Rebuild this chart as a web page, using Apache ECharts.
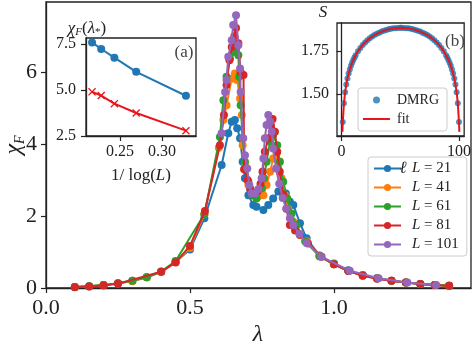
<!DOCTYPE html>
<html><head><meta charset="utf-8">
<script src="https://cdn.jsdelivr.net/npm/echarts@6/dist/echarts.min.js"></script>
<style>html,body{margin:0;padding:0;background:#fff}#c{width:474px;height:343px}</style>
</head><body><div id="c"></div>
<script>
// ---- main panel: chi_F vs lambda ----
const lam21 = [0.1,0.15,0.2,0.25,0.3,0.35,0.4,0.45,0.5,0.55,0.61,0.633,0.645,0.656,0.664,0.674,0.683,0.691,0.703,0.72,0.731,0.755,0.772,0.789,0.807,0.818,0.833,0.847,0.859,0.882,0.905,0.95,1.0,1.05,1.1,1.15,1.2,1.25,1.3,1.35,1.4];
const chi21 = [0.03,0.05,0.08,0.13,0.2,0.3,0.45,0.72,1.07,1.94,3.42,4.3,4.62,4.67,4.44,4.16,3.51,3.05,2.58,2.31,2.26,2.17,2.31,2.49,2.68,2.72,2.63,2.4,2.31,1.8,1.38,0.9,0.68,0.49,0.36,0.27,0.2,0.15,0.11,0.08,0.06];

const lam41 = [0.1,0.15,0.2,0.25,0.3,0.35,0.4,0.45,0.5,0.55,0.6,0.616,0.627,0.645,0.656,0.664,0.674,0.68,0.683,0.691,0.703,0.72,0.737,0.755,0.766,0.778,0.789,0.801,0.812,0.818,0.83,0.841,0.859,0.882,0.905,0.95,1.0,1.05,1.1,1.15,1.2,1.25,1.3,1.35,1.4];
const chi41 = [0.03,0.05,0.08,0.13,0.19,0.3,0.45,0.72,1.12,2.05,3.9,4.67,5.08,5.82,5.96,5.78,5.27,4.81,3.97,3.42,2.86,2.63,2.54,2.58,2.86,3.23,3.6,3.74,3.51,3.05,2.58,2.21,1.84,1.5,1.3,0.88,0.66,0.48,0.35,0.27,0.2,0.15,0.11,0.08,0.06];

const lam61 = [0.1,0.15,0.2,0.25,0.3,0.35,0.4,0.45,0.55,0.604,0.616,0.627,0.639,0.65,0.659,0.668,0.671,0.676,0.683,0.691,0.703,0.717,0.731,0.749,0.757,0.766,0.778,0.789,0.803,0.812,0.824,0.838,0.853,0.87,0.9,0.95,1.0,1.05,1.1,1.15,1.2,1.25,1.3,1.35,1.4];
const chi61 = [0.03,0.05,0.08,0.13,0.2,0.3,0.46,0.75,2.05,4.2,5.22,5.87,6.38,6.56,6.76,6.47,5.87,5.08,4.16,3.51,2.95,2.58,2.49,2.77,3.05,3.51,4.07,4.26,3.97,3.51,2.95,2.49,2.07,1.75,1.3,0.88,0.66,0.48,0.35,0.27,0.2,0.15,0.11,0.08,0.06];

const lam81 = [0.1,0.15,0.2,0.25,0.4,0.45,0.5,0.552,0.604,0.618,0.627,0.637,0.645,0.654,0.66,0.668,0.676,0.686,0.688,0.7,0.71,0.722,0.735,0.745,0.752,0.76,0.772,0.78,0.787,0.795,0.803,0.812,0.824,0.835,0.847,0.865,0.882,0.91,0.957,1.0,1.05,1.1,1.15,1.2,1.25,1.3,1.35,1.4];
const chi81 = [0.02,0.04,0.07,0.12,0.45,0.71,1.17,2.14,3.97,4.81,5.64,6.33,6.7,7.0,7.23,6.8,6.0,5.92,3.3,3.0,2.75,2.62,2.68,2.9,3.23,3.79,4.16,4.53,4.7,4.34,3.79,3.23,2.6,2.2,1.75,1.6,1.47,1.24,0.87,0.66,0.47,0.34,0.26,0.2,0.15,0.11,0.08,0.06];

const lam101 = [0.61,0.622,0.627,0.633,0.645,0.65,0.66,0.668,0.674,0.676,0.685,0.691,0.699,0.706,0.714,0.726,0.738,0.749,0.755,0.76,0.766,0.772,0.778,0.784,0.789,0.799,0.81,0.822,0.835,0.847,0.859,0.88,0.905,0.955,1.055,1.155,1.255,1.355];
const chi101 = [4.3,5.45,5.78,6.43,6.89,7.31,7.58,6.75,6.1,5.45,4.16,3.69,3.32,2.86,2.63,2.63,2.75,3.05,3.6,4.16,4.53,4.81,4.62,4.34,3.88,3.32,2.9,2.5,2.2,1.94,1.75,1.5,1.25,0.87,0.48,0.27,0.15,0.08];

const seriesNames = ['L = 21','L = 41','L = 61','L = 81','L = 101'];
const seriesColors = ['#1f77b4','#ff7f0e','#2ca02c','#d62728','#9467bd'];
const xTicksMain = [0, 0.5, 1.0];
const yTicksMain = [0, 2, 4, 6];

// ---- inset (a): chi_F(lambda_*) vs 1/log(L) ----
const invLogL = [0.2167,0.2276,0.2433,0.2693,0.3285];
const chiPeak1 = [7.59,7.23,6.76,5.99,4.69];
const chiPeak2 = [4.90,4.70,4.26,3.75,2.79];
const xTicksA = [0.25, 0.30];
const yTicksA = [2.5, 5.0, 7.5];

// ---- inset (b): entanglement entropy S vs l ----
const ellX = [1,2,3,4,5,6,7,8,9,10,11,12,14,16,18,20,22,24,26,28,30,32,34,36,38,40,42,44,46,48,50,51,53,55,57,59,61,63,65,67,69,71,73,75,77,79,81,83,85,87,89,90,91,92,93,94,95,96,97,98,99,100];
const sDMRG = [1.337,1.446,1.510,1.555,1.590,1.619,1.643,1.664,1.682,1.698,1.712,1.726,1.749,1.768,1.785,1.800,1.813,1.824,1.834,1.843,1.850,1.857,1.863,1.868,1.873,1.876,1.879,1.882,1.883,1.884,1.885,1.885,1.884,1.883,1.882,1.879,1.876,1.873,1.868,1.863,1.857,1.850,1.843,1.834,1.824,1.813,1.800,1.785,1.768,1.749,1.726,1.712,1.698,1.682,1.664,1.643,1.619,1.590,1.555,1.510,1.446,1.337];
const fitX = [0.7,1,2,3,4,5,6,7,8,9,10,11,12,14,16,18,20,22,24,26,28,30,32,34,36,38,40,42,44,46,48,50,51,53,55,57,59,61,63,65,67,69,71,73,75,77,79,81,83,85,87,89,90,91,92,93,94,95,96,97,98,99,100,100.3];
const fitS = [1.280,1.337,1.446,1.510,1.555,1.590,1.619,1.643,1.664,1.682,1.698,1.712,1.726,1.749,1.768,1.785,1.800,1.813,1.824,1.834,1.843,1.850,1.857,1.863,1.868,1.873,1.876,1.879,1.882,1.883,1.884,1.885,1.885,1.884,1.883,1.882,1.879,1.876,1.873,1.868,1.863,1.857,1.850,1.843,1.834,1.824,1.813,1.800,1.785,1.768,1.749,1.726,1.712,1.698,1.682,1.664,1.643,1.619,1.590,1.555,1.510,1.446,1.337,1.280];
const xTicksB = [0, 100];
const yTicksB = [1.50, 1.75];

const zip = (a, b) => a.map((v, i) => [v, b[i]]);
const SERIF = 'Liberation Serif';
const INK = '#222';
const lamData = [[lam21, chi21],[lam41, chi41],[lam61, chi61],[lam81, chi81],[lam101, chi101]];

function axisBase(fs) {
  return {
    axisLine: {show: true, lineStyle: {color: INK, width: 1.3}},
    axisTick: {show: true, length: 5, lineStyle: {color: INK, width: 1.2}},
    splitLine: {show: false},
    axisLabel: {color: INK, fontFamily: SERIF, fontSize: fs}
  };
}
function mk(base, extra) {
  const o = Object.assign({}, base, extra);
  o.axisLabel = Object.assign({}, base.axisLabel, extra.axisLabel || {});
  o.axisTick = Object.assign({}, base.axisTick, extra.axisTick || {});
  return o;
}

const mainSeries = lamData.map((d, i) => ({
  name: seriesNames[i], type: 'line', xAxisIndex: 0, yAxisIndex: 0,
  data: zip(d[0], d[1]), symbol: 'circle', symbolSize: 8,
  lineStyle: {width: 2, color: seriesColors[i]},
  itemStyle: {color: seriesColors[i]}, z: 2 + i, clip: true
}));

const option = {
  animation: false,
  backgroundColor: '#fff',
  grid: [
    {left: 46, top: 2, width: 425, height: 286, show: true, borderColor: INK, borderWidth: 1.3, backgroundColor: 'transparent'},
    {left: 86, top: 38, width: 110, height: 98, show: true, borderColor: INK, borderWidth: 1.3, backgroundColor: '#fff'},
    {left: 337, top: 23, width: 130, height: 113, show: true, borderColor: INK, borderWidth: 1.3, backgroundColor: '#fff'}
  ],
  xAxis: [
    mk(axisBase(22), {type: 'value', gridIndex: 0, min: 0, max: 1.476,
      axisLabel: {customValues: xTicksMain, formatter: v => v.toFixed(1), margin: 9},
      axisTick: {customValues: xTicksMain}}),
    mk(axisBase(16), {type: 'value', gridIndex: 1, min: 0.2095, max: 0.3405,
      axisLabel: {customValues: xTicksA, formatter: v => v.toFixed(2), margin: 8},
      axisTick: {customValues: xTicksA}}),
    mk(axisBase(16), {type: 'value', gridIndex: 2, min: -3.9, max: 104.4,
      axisLabel: {customValues: xTicksB, formatter: v => String(Math.round(v)), margin: 8},
      axisTick: {customValues: xTicksB}})
  ],
  yAxis: [
    mk(axisBase(22), {type: 'value', gridIndex: 0, min: 0, max: 7.95,
      axisLabel: {customValues: yTicksMain, formatter: v => String(v), margin: 9},
      axisTick: {customValues: yTicksMain}}),
    mk(axisBase(16), {type: 'value', gridIndex: 1, min: 2.5, max: 7.83,
      axisLabel: {customValues: yTicksA, formatter: v => v.toFixed(1), margin: 10},
      axisTick: {customValues: yTicksA}}),
    mk(axisBase(16), {type: 'value', gridIndex: 2, min: 1.256, max: 1.913,
      axisLabel: {customValues: yTicksB, formatter: v => v.toFixed(2), margin: 8},
      axisTick: {customValues: yTicksB}})
  ],
  legend: [
    {data: seriesNames, orient: 'vertical', left: 368, top: 157, itemWidth: 27, itemHeight: 9, itemGap: 4,
      padding: [4, 8, 4, 5], backgroundColor: 'rgba(255,255,255,0.85)', borderColor: '#ccc', borderWidth: 1, borderRadius: 3,
      selectedMode: false,
      formatter: n => '{i|L} = ' + n.split('= ')[1],
      textStyle: {fontFamily: SERIF, fontSize: 15, lineHeight: 14, color: INK, padding: [0, 0, 0, 6],
        rich: {i: {fontFamily: SERIF, fontStyle: 'italic', fontSize: 15, color: INK}}}},
    {data: [{name: 'DMRG', icon: 'circle'}, {name: 'fit', icon: 'path://M0,0H27V2H0Z'}], orient: 'vertical', left: 358, top: 88,
      itemWidth: 27, itemHeight: 7, itemGap: 5, padding: [5, 8, 5, 5], symbolKeepAspect: true,
      backgroundColor: 'rgba(255,255,255,0.85)', borderColor: '#ccc', borderWidth: 1, borderRadius: 3,
      selectedMode: false,
      textStyle: {fontFamily: SERIF, fontSize: 14, lineHeight: 14, color: INK, padding: [0, 0, 0, 2]}}
  ],
  series: mainSeries.concat([
    {name: 'first', type: 'line', xAxisIndex: 1, yAxisIndex: 1, data: zip(invLogL, chiPeak1),
      symbol: 'circle', symbolSize: 8, lineStyle: {width: 2, color: '#1f77b4'}, itemStyle: {color: '#1f77b4'}, z: 10},
    {name: 'second', type: 'line', xAxisIndex: 1, yAxisIndex: 1, data: zip(invLogL, chiPeak2),
      symbol: 'path://M0,1.2L1.2,0L5,3.8L8.8,0L10,1.2L6.2,5L10,8.8L8.8,10L5,6.2L1.2,10L0,8.8L3.8,5Z', symbolSize: 8,
      lineStyle: {width: 2, color: '#e8161b'}, itemStyle: {color: '#e8161b'}, z: 10},
    {name: 'DMRG', type: 'scatter', xAxisIndex: 2, yAxisIndex: 2, data: zip(ellX, sDMRG),
      symbol: 'circle', symbolSize: 6, itemStyle: {color: '#1f77b4'}, z: 10},
    {name: 'fit', type: 'line', xAxisIndex: 2, yAxisIndex: 2, data: zip(fitX, fitS),
      symbol: 'none', lineStyle: {width: 2, color: '#e8161b'}, itemStyle: {color: '#e8161b'}, z: 11, clip: true}
  ]),
  graphic: [
    {type: 'text', x: 14, y: 145, rotation: Math.PI / 2, z: 100,
      style: {text: '{a|χ}{b|F}', textAlign: 'center', textVerticalAlign: 'middle',
        rich: {a: {fontFamily: SERIF, fontStyle: 'italic', fontSize: 24, lineHeight: 26, fill: INK},
               b: {fontFamily: SERIF, fontStyle: 'italic', fontSize: 14, lineHeight: 26, verticalAlign: 'bottom', fill: INK}}}},
    {type: 'text', x: 258, y: 335, z: 100,
      style: {text: 'λ', font: 'italic 24px "Liberation Serif"', fill: INK, textAlign: 'center', textVerticalAlign: 'middle'}},
    {type: 'text', x: 87, y: 29, z: 100,
      style: {text: '{a|χ}{b|F}{c|(}{a|λ}{s|*}{c|)}', textAlign: 'center', textVerticalAlign: 'middle',
        rich: {a: {fontFamily: SERIF, fontStyle: 'italic', fontSize: 17, lineHeight: 18, fill: INK},
               b: {fontFamily: SERIF, fontStyle: 'italic', fontSize: 11, lineHeight: 18, verticalAlign: 'bottom', fill: INK},
               s: {fontFamily: SERIF, fontSize: 11, lineHeight: 18, verticalAlign: 'bottom', fill: INK},
               c: {fontFamily: SERIF, fontSize: 17, lineHeight: 18, fill: INK}}}},
    {type: 'text', x: 184, y: 53, z: 100,
      style: {text: '(a)', font: '17px "Liberation Serif"', fill: '#444', textAlign: 'center', textVerticalAlign: 'middle'}},
    {type: 'text', x: 141, y: 176, z: 100,
      style: {text: '{c|1/ log(}{a|L}{c|)}', textAlign: 'center', textVerticalAlign: 'middle',
        rich: {a: {fontFamily: SERIF, fontStyle: 'italic', fontSize: 17, fill: INK},
               c: {fontFamily: SERIF, fontSize: 17, fill: INK}}}},
    {type: 'text', x: 323, y: 13, z: 100,
      style: {text: 'S', font: 'italic 17px "Liberation Serif"', fill: INK, textAlign: 'center', textVerticalAlign: 'middle'}},
    {type: 'text', x: 455, y: 42, z: 100,
      style: {text: '(b)', font: '17px "Liberation Serif"', fill: '#444', textAlign: 'center', textVerticalAlign: 'middle'}},
    {type: 'text', x: 403, y: 169, z: 100,
      style: {text: 'ℓ', font: 'italic 17px "DejaVu Serif"', fill: INK, textAlign: 'center', textVerticalAlign: 'middle'}}
  ]
};
const chart = echarts.init(document.getElementById('c'));
chart.setOption(option);
</script></body></html>
